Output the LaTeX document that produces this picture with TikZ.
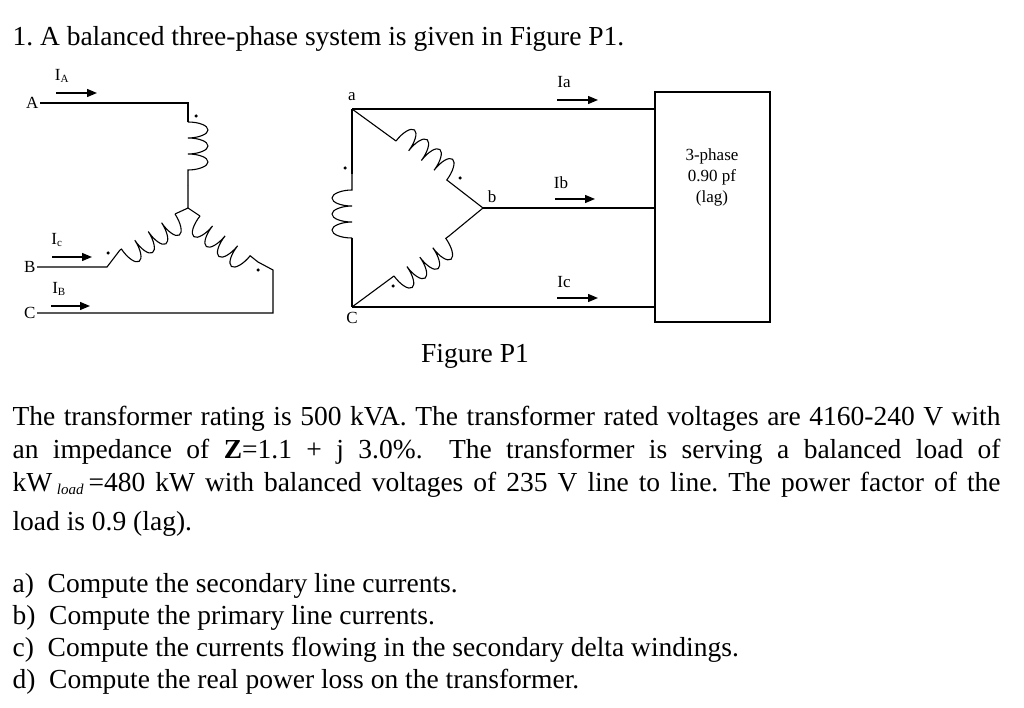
\documentclass[tikz,border=0pt]{standalone}
\usepackage{fontspec}
\setmainfont{Liberation Serif}
\usetikzlibrary{arrows.meta,decorations.pathmorphing}
\begin{document}
\frenchspacing
\begin{tikzpicture}[x=1pt,y=-1pt,line width=1.1pt,
  lbl/.style={inner sep=0pt,font=\fontsize{17}{17}\selectfont},
  cur/.style={line width=1.3pt,-{Triangle[length=10pt,width=8pt]}},
  coilst/.style={decorate,decoration={bumps,amplitude=20pt,segment length=32pt}},
  coilm/.style={decorate,decoration={bumps,amplitude=20pt,segment length=32pt,mirror}},
  dotst/.style={circle,fill,inner sep=0pt,minimum size=3.5pt},
  txt/.style={anchor=base west,inner sep=0pt,font=\fontsize{27.5}{27.5}\selectfont}]
\useasboundingbox (0,0) rectangle (1024,708);
% text
\node[txt] (t1) at (12,46) {1. A balanced three-phase system is given in Figure P1.};
\node[txt,anchor=base] (cap) at (475,362) {Figure P1};
\node[txt] (p1) at (12,425) {\makebox[988pt][s]{The transformer rating is 500 kVA. The transformer rated voltages are 4160-240 V with}};
\node[txt] (p2) at (12,458) {\makebox[988pt][s]{an impedance of \textbf{Z}=1.1 + j 3.0\%.\hspace{12pt} The transformer is serving a balanced load of}};
\node[txt] (p3) at (12,491) {\makebox[988pt][s]{kW\,$_{\textit{\fontsize{15}{15}\selectfont load}}$\,=480 kW with balanced voltages of 235 V line to line. The power factor of the}};
\node[txt] (p4) at (12,530) {load is 0.9 (lag).};
\node[txt] (qa) at (12,592) {a)\ \ Compute the secondary line currents.};
\node[txt] (qb) at (12,624) {b)\ \ Compute the primary line currents.};
\node[txt] (qc) at (12,656) {c)\ \ Compute the currents flowing in the secondary delta windings.};
\node[txt] (qd) at (12,688) {d)\ \ Compute the real power loss on the transformer.};
% primary wye
\coordinate (A0) at (40,103); \coordinate (A1) at (188,103); \coordinate (A2) at (188,122);
\coordinate (A3) at (188,186); \coordinate (N) at (188,208);
\coordinate (B0) at (37,267); \coordinate (B1) at (107,267); \coordinate (B2) at (120,250);
\coordinate (B3) at (175,214);
\coordinate (C0) at (37,313); \coordinate (C1) at (273,313); \coordinate (C2) at (273,270);
\coordinate (C3) at (258,262); \coordinate (C4) at (200,216);
\node[lbl,anchor=east] (Al) at (39,103) {A};
\node[lbl,anchor=east] (Bl) at (36,267) {B};
\node[lbl,anchor=east] (Cl) at (36,313) {C};
\draw (A0) -- (A1) -- (A2);
\draw[coilst] (A2) -- (A3);
\draw (A3) -- (N) -- (B3);
\draw[coilst] (B3) -- (B2);
\draw (B2) -- (B1) -- (B0);
\draw (N) -- (C4);
\draw[coilm] (C4) -- (C3);
\draw (C3) -- (C2) -- (C1) -- (C0);
\node[dotst] (d1) at (196,116) {};
\node[dotst] (d2) at (108,253) {};
\node[dotst] (d3) at (258,270) {};
\node[lbl] (IA) at (62,76) {I\textsubscript{\fontsize{11}{11}\selectfont A}};
\coordinate (ia0) at (56,93); \coordinate (ia1) at (97,93); \draw[cur] (ia0) -- (ia1);
\node[lbl] (IC) at (57,240) {I\textsubscript{\fontsize{11}{11}\selectfont c}};
\coordinate (ic0) at (52,257); \coordinate (ic1) at (92,257); \draw[cur] (ic0) -- (ic1);
\node[lbl] (IB) at (59,289) {I\textsubscript{\fontsize{11}{11}\selectfont B}};
\coordinate (ib0) at (51,306); \coordinate (ib1) at (90,306); \draw[cur] (ib0) -- (ib1);
% secondary delta
\coordinate (a) at (352,109); \coordinate (b) at (483,208); \coordinate (c) at (352,307);
\coordinate (L1) at (352,174); \coordinate (L2) at (352,238);
\coordinate (T1) at (396,141); \coordinate (T2) at (452,184);
\coordinate (D1) at (394,276); \coordinate (D2) at (449,236);
\draw (a) -- (L1); \draw[coilst] (L2) -- (L1); \draw (L2) -- (c);
\draw (a) -- (T1); \draw[coilst] (T1) -- (T2); \draw (T2) -- (b);
\draw (c) -- (D1); \draw[coilm] (D1) -- (D2); \draw (D2) -- (b);
\node[dotst] (d4) at (345,168) {};
\node[dotst] (d5) at (460,178) {};
\node[dotst] (d6) at (393,286) {};
\node[lbl] (al) at (352,97) {a};
\node[lbl] (bl) at (492,197) {b};
\node[lbl] (cl) at (352,318) {C};
\node[draw,minimum width=115pt,minimum height=230pt,inner sep=0pt] (load) at (712.5,207) {};
\node[lbl,align=center,font=\fontsize{17}{21}\selectfont] (lt) at (712,177) {3-phase\\0.90 pf\\(lag)};
\draw (a) -- (a -| load.west);
\draw (b) -- (b -| load.west);
\draw (c) -- (c -| load.west);
\node[lbl] (Ia) at (564,82) {Ia};
\coordinate (xa0) at (557,100); \coordinate (xa1) at (598,100); \draw[cur] (xa0) -- (xa1);
\node[lbl] (Ib) at (561,183) {Ib};
\coordinate (xb0) at (555,199); \coordinate (xb1) at (595,199); \draw[cur] (xb0) -- (xb1);
\node[lbl] (Ic) at (564,282) {Ic};
\coordinate (xc0) at (557,298); \coordinate (xc1) at (598,298); \draw[cur] (xc0) -- (xc1);
\end{tikzpicture}
\end{document}
